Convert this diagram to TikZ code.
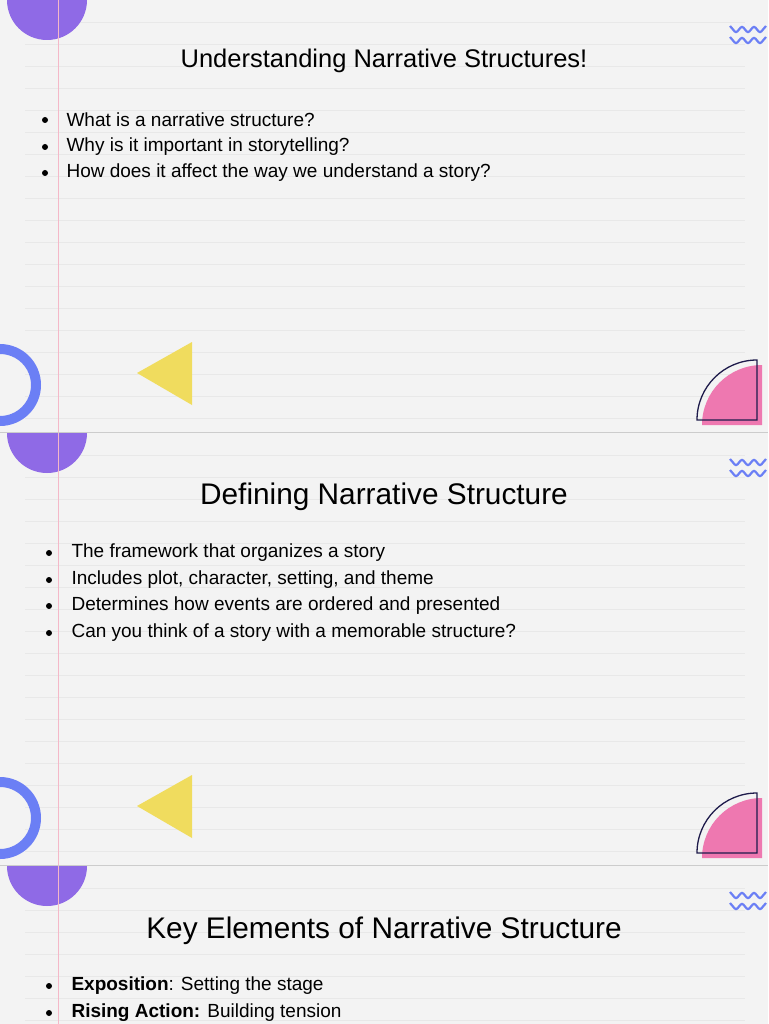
\documentclass[tikz,border=0pt]{standalone}
\usepackage{fontspec}
\setmainfont{Liberation Sans}
\definecolor{bg}{HTML}{F3F3F3}
\definecolor{rule}{HTML}{E8E8E8}
\definecolor{purp}{HTML}{8F6AE6}
\definecolor{blu}{HTML}{6B7FF5}
\definecolor{yel}{HTML}{F0DC5E}
\definecolor{pnk}{HTML}{EE78B0}
\definecolor{navy}{HTML}{1E1B4B}
\definecolor{marg}{HTML}{F4B8C8}
\tikzset{title/.style={font=\fontsize{25.5}{30}\selectfont,anchor=center},
 bigtitle/.style={font=\fontsize{29.8}{34}\selectfont,anchor=center},
 bul/.style={font=\fontsize{19}{22}\selectfont,anchor=west},
 dot/.style={circle,fill=black,inner sep=0pt,minimum size=6pt}}
\newcommand{\slidedeco}[1]{%
 \foreach \k in {1,...,19}{\draw[rule,line width=0.8pt] (25,#1+\k*22) -- (745,#1+\k*22);}
 \fill[purp] (7,#1) arc[start angle=180,end angle=0,x radius=40,y radius=40] -- cycle;
 \draw[blu,line width=10pt] (0,#1+385) circle[radius=36];
 \fill[yel] (137,#1+373) -- (192,#1+342) -- (192,#1+405) -- cycle;
 \fill[pnk] (702,#1+425) arc[start angle=180,end angle=270,radius=60] -- (762,#1+425) -- cycle;
 \draw[navy,line width=1.3pt] (697,#1+420) arc[start angle=180,end angle=270,radius=60] -- (757,#1+420) -- cycle;
 \foreach \yy in {26,37}{\draw[blu,line width=2.2pt,rounded corners=2pt] (730,#1+\yy) -- (736,#1+\yy+7) -- (742,#1+\yy) -- (748,#1+\yy+7) -- (754,#1+\yy) -- (760,#1+\yy+7) -- (766,#1+\yy);}
}
\begin{document}
\begin{tikzpicture}[x=1pt,y=-1pt]
\fill[bg] (0,0) rectangle (768,1024);
\useasboundingbox (0,0) rectangle (768,1024);
\slidedeco{0}
\slidedeco{433}
\slidedeco{866}
\draw[marg,line width=1pt] (58,0) -- (58,1024);
\draw[gray!40,line width=0.8pt] (0,432.5) -- (768,432.5);
\draw[gray!40,line width=0.8pt] (0,865.5) -- (768,865.5);
% slide 1
\node[title] (t1) at (384,61) {Understanding Narrative Structures!};
\node[dot] (d11) at (45,120) {}; \node[bul] (b11) at (63,120) {What is a narrative structure?};
\node[dot] (d12) at (45,147) {}; \node[bul] (b12) at (63,147) {Why is it important in storytelling?};
\node[dot] (d13) at (45,173) {}; \node[bul] (b13) at (63,173) {How does it affect the way we understand a story?};
% slide 2
\node[bigtitle] (t2) at (384,497) {Defining Narrative Structure};
\node[dot] (d21) at (49,553) {}; \node[bul] (b21) at (68,553) {The framework that organizes a story};
\node[dot] (d22) at (49,580) {}; \node[bul] (b22) at (68,580) {Includes plot, character, setting, and theme};
\node[dot] (d23) at (49,606) {}; \node[bul] (b23) at (68,606) {Determines how events are ordered and presented};
\node[dot] (d24) at (49,633) {}; \node[bul] (b24) at (68,633) {Can you think of a story with a memorable structure?};
% slide 3
\node[bigtitle] (t3) at (384,931) {Key Elements of Narrative Structure};
\node[dot] (d31) at (49,986) {}; \node[bul] (b31) at (68,986) {\textbf{Exposition}: Setting the stage};
\node[dot] (d32) at (49,1013) {}; \node[bul] (b32) at (68,1013) {\textbf{Rising Action:} Building tension};
\end{tikzpicture}
\end{document}
